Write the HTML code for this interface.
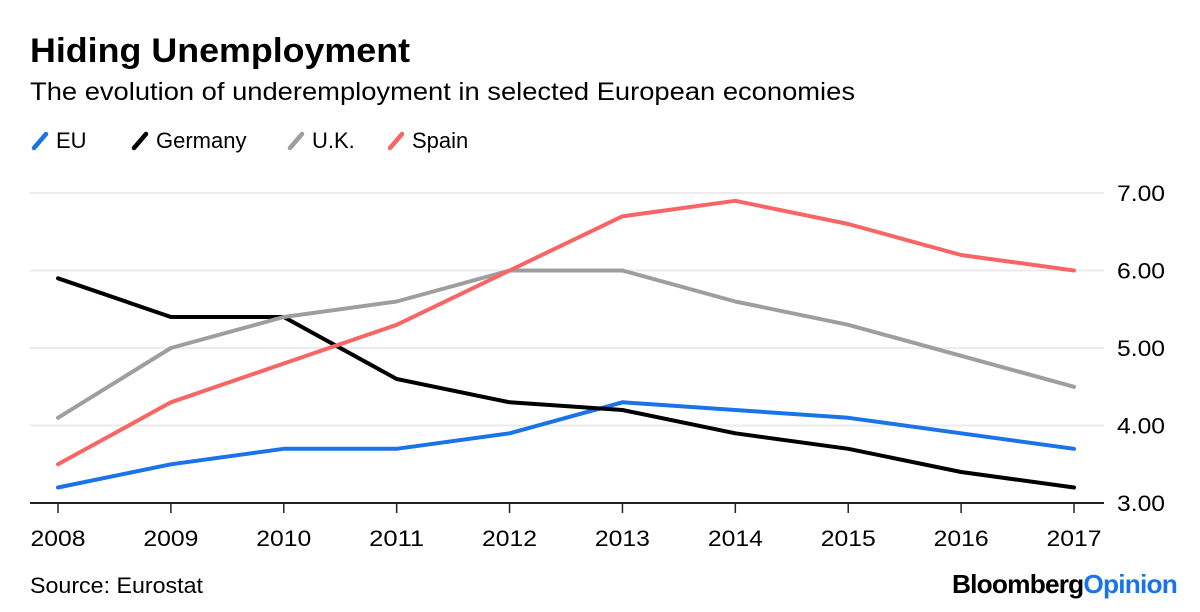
<!DOCTYPE html>
<html><head><meta charset="utf-8"><style>
body{margin:0;background:#fff;width:1200px;height:612px;overflow:hidden;font-family:"Liberation Sans",Arial,sans-serif}
svg{display:block}
</style></head><body>
<svg id="chart" width="1200" height="612" xmlns="http://www.w3.org/2000/svg" font-family="Liberation Sans, Arial, sans-serif">
<text x="30" y="62" font-size="34" font-weight="bold" fill="#000" textLength="380" lengthAdjust="spacingAndGlyphs">Hiding Unemployment</text>
<text x="30" y="100" font-size="25" fill="#000" textLength="825" lengthAdjust="spacingAndGlyphs">The evolution of underemployment in selected European economies</text>
<g id="legend"></g>
<g id="grid"></g><g id="series"></g><g id="axes"></g>
<text x="30" y="593" font-size="22" fill="#000" textLength="173" lengthAdjust="spacingAndGlyphs">Source: Eurostat</text>
<text x="952" y="593" font-size="26" font-weight="bold" fill="#000" letter-spacing="-0.8" textLength="225" lengthAdjust="spacingAndGlyphs">Bloomberg<tspan fill="#1a73e8">Opinion</tspan></text>
</svg>
<script>
const years=[2008,2009,2010,2011,2012,2013,2014,2015,2016,2017];
const seriesNames=["EU","Germany","U.K.","Spain"];
const seriesColors=["#1a73e8","#000000","#9e9e9e","#f76565"];
const euValues=[3.2,3.5,3.7,3.7,3.9,4.3,4.2,4.1,3.9,3.7];
const germanyValues=[5.9,5.4,5.4,4.6,4.3,4.2,3.9,3.7,3.4,3.2];
const ukValues=[4.1,5.0,5.4,5.6,6.0,6.0,5.6,5.3,4.9,4.5];
const spainValues=[3.5,4.3,4.8,5.3,6.0,6.7,6.9,6.6,6.2,6.0];
const yTicks=[3,4,5,6,7];
const yTickLabels=["3.00","4.00","5.00","6.00","7.00"];

const NS="http://www.w3.org/2000/svg";
const x0=58,x1=1074,yBase=503,yTop=193,vMin=3,vMax=7;
const xScale=i=>x0+(x1-x0)*i/(years.length-1);
const yScale=v=>yBase-(v-vMin)/(vMax-vMin)*(yBase-yTop);
function mk(tag,attrs,parent){const e=document.createElementNS(NS,tag);for(const k in attrs)e.setAttribute(k,attrs[k]);parent.appendChild(e);return e;}
const grid=document.getElementById('grid'),axes=document.getElementById('axes'),ser=document.getElementById('series'),leg=document.getElementById('legend');

yTicks.forEach((t,i)=>{
  const y=yScale(t);
  if(t>vMin){const l=mk('line',{x1:30,x2:1104,y1:y,y2:y,stroke:'#ebebeb','stroke-width':2},grid);
  
  }
  const tx=mk('text',{x:1117,y:y+8,'font-size':22,fill:'#000',textLength:48,lengthAdjust:'spacingAndGlyphs'},axes);tx.textContent=yTickLabels[i];
  
  
});
const ax=mk('line',{x1:30,x2:1104,y1:yBase,y2:yBase,stroke:'#222','stroke-width':2},axes);


years.forEach((yr,i)=>{
  const x=xScale(i);
  const tk=mk('line',{x1:x,x2:x,y1:yBase,y2:yBase+10,stroke:'#222','stroke-width':1.5},axes);
  
  
  const tx=mk('text',{x:x-27.5,y:546,'font-size':22,fill:'#000',textLength:55,lengthAdjust:'spacingAndGlyphs'},axes);tx.textContent=yr;
  
  
});
const allValues=[euValues,germanyValues,ukValues,spainValues];
const slug=["eu","germany","uk","spain"];
allValues.forEach((vals,s)=>{
  const d=vals.map((v,i)=>(i?'L':'M')+xScale(i).toFixed(1)+' '+yScale(v).toFixed(1)).join(' ');
  const p=mk('path',{d:d,fill:'none',stroke:seriesColors[s],'stroke-width':4,'stroke-linejoin':'round','stroke-linecap':'round'},ser);
  
  
});
const legX=[34,134,290,390];
seriesNames.forEach((n,s)=>{
  const g=mk('g',{},leg);
  
  
  mk('line',{x1:legX[s],y1:148,x2:legX[s]+12,y2:134,stroke:seriesColors[s],'stroke-width':4.5,'stroke-linecap':'round'},g);
  const t=mk('text',{x:legX[s]+22,y:148,'font-size':22,fill:'#000'},g);t.textContent=n;
});
</script>
</body></html>
